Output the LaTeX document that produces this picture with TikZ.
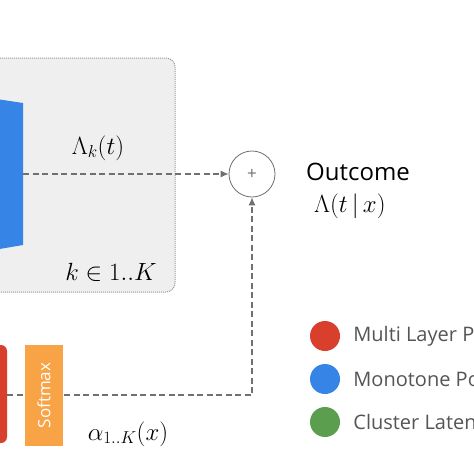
\documentclass[tikz,border=0pt]{standalone}
\usepackage{amsmath}
\usepackage{fontspec}
\setmainfont{Open Sans}
\usepackage{tikz}
\usetikzlibrary{arrows.meta, positioning, calc}
\definecolor{mlpred}{HTML}{D8402D}
\definecolor{monoblue}{HTML}{3684E6}
\definecolor{clustgreen}{HTML}{5A9E4E}
\definecolor{softorange}{HTML}{F8A446}
\definecolor{boxgray}{HTML}{EFEFEF}
\definecolor{linegray}{HTML}{707070}
\definecolor{legendtext}{HTML}{555555}

\begin{document}
\begin{tikzpicture}[
    x=1pt, y=-1pt,
    node distance=6pt and 12pt,
    mathlabel/.style={inner sep=1pt, font=\fontsize{23}{28}\selectfont},
    sumnode/.style={circle, draw=linegray, thick, fill=white, minimum size=46pt, inner sep=0pt, text=linegray, font=\fontsize{17}{19}\selectfont},
    softbox/.style={rectangle, fill=softorange, minimum width=38pt, minimum height=101pt, inner sep=0pt, text=white, font=\fontsize{17}{19}\selectfont},
    dot/.style={circle, minimum size=30pt, inner sep=0pt},
    legendlabel/.style={anchor=west, inner sep=2pt, text=legendtext, font=\fontsize{20}{22}\selectfont},
    arrow/.style={dashed, dash pattern=on 6pt off 3.5pt, line width=1.1pt, draw=linegray, -{Latex[length=8pt, width=7pt]}},
]
\clip (0,0) rectangle (474,474);
\fill[white] (0,0) rectangle (474,474);

% Cluster box
\draw[fill=boxgray, draw=gray!80, densely dotted, line width=1pt, rounded corners=9pt] (-30,58) rectangle (175,292);
\fill[monoblue] (-30,95) -- (23,103) -- (23,245) -- (-30,254) -- cycle;
\coordinate (mono) at (23,174);
\node[mathlabel] (lamk) at (98,148) {$\Lambda_k(t)$};
\node[mathlabel] (kset) at (111,272) {$k \in 1..K$};

% Nodes
\node[sumnode] (sum) at (252,174) {+};
\node[anchor=west, inner sep=1pt, font=\fontsize{24}{28}\selectfont] (outcome) at (305,172) {Outcome};
\node[mathlabel, anchor=north west] (lam) at ([xshift=8pt, yshift=-11pt]outcome.south west) {$\Lambda(t \,|\, x)$};

\fill[mlpred, rounded corners=6pt] (-30,345) rectangle (7,443);
\coordinate (mlp) at (7,395);

% Arcs/Paths
\draw[arrow] (mono) -- (sum);
\draw[arrow] (mlp) -- (sum |- mlp) -- (sum);

\node[softbox] (softmax) at (44,395.5) {\rotatebox{90}{Softmax}};
\node[mathlabel] (alpha) at (128,434) {$\alpha_{1..K}(x)$};

% Legend
\node[dot, fill=mlpred] (mlpdot) at (325,336) {};
\node[dot, fill=monoblue] (monodot) at (325,379) {};
\node[dot, fill=clustgreen] (clustdot) at (325,422) {};
\node[legendlabel, right=11pt of mlpdot] (mlptext) {Multi Layer Perceptron};
\node[legendlabel, right=11pt of monodot] (monotext) {Monotone Positive};
\node[legendlabel, right=11pt of clustdot] (clusttext) {Cluster Latent};
\end{tikzpicture}
\end{document}
